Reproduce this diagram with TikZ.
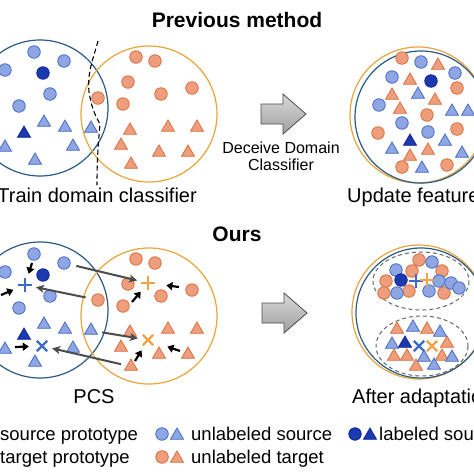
\documentclass[tikz,border=0pt]{standalone}
\usepackage{fontspec}
\setmainfont{Liberation Sans}
\usetikzlibrary{arrows.meta, shapes.geometric, shapes.misc}

\definecolor{srcfill}{HTML}{8EA6E3}
\definecolor{srcline}{HTML}{4A6CC4}
\definecolor{labfill}{HTML}{1C3AB0}
\definecolor{labline}{HTML}{14289A}
\definecolor{tgtfill}{HTML}{EE9E7C}
\definecolor{tgtline}{HTML}{D9703F}
\definecolor{srcring}{HTML}{2C5B85}
\definecolor{tgtring}{HTML}{E8A53A}
\definecolor{protosrc}{HTML}{3D6CC4}
\definecolor{prototgt}{HTML}{F2A445}

\tikzset{
  sc/.style={circle, draw=srcline, fill=srcfill, line width=0.8pt, minimum size=12.5pt, inner sep=0pt},
  st/.style={regular polygon, regular polygon sides=3, draw=srcline, fill=srcfill, line width=0.8pt, minimum size=15pt, inner sep=0pt, yshift=-1.5pt},
  lc/.style={sc, draw=labline, fill=labfill},
  lt/.style={st, draw=labline, fill=labfill},
  tc/.style={sc, draw=tgtline, fill=tgtfill},
  tt/.style={st, draw=tgtline, fill=tgtfill},
  ring/.style={line width=1.2pt},
  group/.style={dashed, dash pattern=on 4pt off 3pt, line width=1pt, black!60},
  splus/.style={cross out, rotate=45, draw=protosrc, line width=2.4pt, minimum size=8pt, inner sep=0pt},
  sx/.style={cross out, draw=protosrc, line width=2.4pt, minimum size=8pt, inner sep=0pt},
  tplus/.style={splus, draw=prototgt},
  tx/.style={sx, draw=prototgt},
  pull/.style={black!70, line width=2pt, -{Stealth[length=8pt,width=8pt,inset=2pt]}, shorten <=6pt, shorten >=5pt},
  nudge/.style={line width=2.2pt, -{Triangle[length=6pt,width=8pt]}},
  bigarrow/.style={draw=black!70, line width=0.8pt, top color=gray!30, bottom color=gray!75},
  heading/.style={font=\fontsize{21}{25}\selectfont\bfseries, inner sep=0pt},
  caption/.style={font=\fontsize{20}{24}\selectfont, inner sep=0pt},
  note/.style={font=\fontsize{16}{17}\selectfont, inner sep=0pt, align=center},
  keytext/.style={font=\fontsize{18.5}{22}\selectfont, inner sep=0pt, anchor=base west}
}

% the two domains before adaptation
\newcommand{\domains}{%
  \draw[ring, srcring] (40,108) circle[radius=68];
  \draw[ring, tgtring] (149,114) circle[radius=68];
  \foreach \px/\py [count=\i] in {34/52,64/61,5/70,50/94,19/106}
    \node[sc] (sc\i) at (\px,\py) {};
  \node[lc] (lc1) at (43,73) {};
  \foreach \px/\py [count=\i] in {44/121,65/126,91/127,5/146,73/145,35/159}
    \node[st] (st\i) at (\px,\py) {};
  \node[lt] (lt1) at (24,132) {};
  \foreach \px/\py [count=\i] in {136/57,155/61,128/82,161/94,192/88,123/104,98/98}
    \node[tc] (tc\i) at (\px,\py) {};
  \foreach \px/\py [count=\i] in {130/129,168/126,197/126,121/144,159/151,188/151,131/163}
    \node[tt] (tt\i) at (\px,\py) {};
}

\newcommand{\blockarrow}[2]{%
  \draw[bigarrow, shift={(#1,#2)}] (0,10) -- (22,10) -- (22,0) -- (45,20) -- (22,40) -- (22,30) -- (0,30) -- cycle;
}

\begin{document}
\begin{tikzpicture}[x=1pt, y=-1pt]
\useasboundingbox (0,0) rectangle (474,474);
\fill[white] (0,0) rectangle (474,474);
\clip (0,0) rectangle (474,474);

\node[heading, anchor=base] (prev) at (237,27) {Previous method};
\node[heading, anchor=base] (ours) at (237,241) {Ours};

%% previous method
\begin{scope}[name prefix=top-]
  \domains
\end{scope}
\draw[dashed, dash pattern=on 5pt off 3pt, line width=1.1pt] (98,41) to[out=-105,in=95] (89,92) to[out=-80,in=120] (100,124) to[out=-95,in=90] (97,185);
\node[caption, anchor=base east] (train) at (197,202) {Train domain classifier};

\blockarrow{261}{94}
\node[note, anchor=north] (deceive) at (281,142) {Deceive Domain\\Classifier};

\draw[ring, tgtring] (418,115) circle[radius=68];
\draw[ring, srcring] (421,117) circle[radius=66];
\begin{scope}[name prefix=mix-]
  \foreach \px/\py [count=\i] in {402/58,457/88,427/115,378/133,457/129,402/167,447/165}
    \node[tc] (tc\i) at (\px,\py) {};
  \foreach \px/\py [count=\i] in {421/62,455/73,392/77,379/105,402/123,428/132}
    \node[sc] (sc\i) at (\px,\py) {};
  \node[lc] (lc1) at (431,81) {};
  \foreach \px/\py [count=\i] in {438/64,410/79,392/94,435/99,400/108,410/155,428/149}
    \node[tt] (tt\i) at (\px,\py) {};
  \foreach \px/\py [count=\i] in {418/93,452/110,468/110,445/140,392/148,462/152,422/167}
    \node[st] (st\i) at (\px,\py) {};
  \node[lt] (lt1) at (410,140) {};
\end{scope}
\node[caption, anchor=base west] (update) at (347,202) {Update features};

%% ours: PCS
\begin{scope}[name prefix=bot-, shift={(0,202)}]
  \domains
\end{scope}
\node[splus] (sproto) at (25,285) {};
\node[sx] (scross) at (42,346) {};
\node[tplus] (tproto) at (148,283) {};
\node[tx] (tcross) at (148,340) {};

\draw[pull] (bot-sc2) -- (tproto);
\draw[pull] (bot-tc7) -- (sproto);
\draw[pull] (bot-st3) -- (tcross);
\draw[pull] (bot-tt7) -- (scross);

\coordinate (n1) at (32,263);
\coordinate (n2) at (1,295);
\coordinate (n3) at (15,347);
\coordinate (n4) at (179,287);
\coordinate (n5) at (132,302);
\coordinate (n6) at (135,361);
\coordinate (n7) at (180,351);
\draw[nudge, shorten >=6pt] (n1) -- (sproto);
\draw[nudge, shorten >=7pt] (n2) -- (sproto);
\draw[nudge, shorten >=8pt] (n3) -- (scross);
\draw[nudge, shorten >=12pt] (n4) -- (tproto);
\draw[nudge, shorten >=6pt] (n5) -- (tproto);
\draw[nudge, shorten >=6pt] (n6) -- (tcross);
\draw[nudge, shorten >=15pt] (n7) -- (tcross);
\node[caption, anchor=base] (pcs) at (94,403) {PCS};

\blockarrow{262}{293}

%% after adaptation
\draw[ring, tgtring] (419,312) circle[radius=67];
\draw[ring, srcring] (421,313) circle[radius=65];
\draw[group] (421,281) ellipse[x radius=48, y radius=29];
\draw[group] (422,346) ellipse[x radius=46, y radius=30];
\begin{scope}[name prefix=after-]
  \foreach \px/\py [count=\i] in {419/260,412/271,442/271,386/281,384/293,409/291,444/293}
    \node[tc] (tc\i) at (\px,\py) {};
  \foreach \px/\py [count=\i] in {432/262,396/270,439/281,451/283,459/288,397/293,429/291}
    \node[sc] (sc\i) at (\px,\py) {};
  \node[lc] (lc1) at (401,280) {};
  \foreach \px/\py [count=\i] in {397/328,427/328,447/342,394/355,407/355,442/355,416/365}
    \node[tt] (tt\i) at (\px,\py) {};
  \foreach \px/\py [count=\i] in {413/326,440/331,392/343,424/356,452/356,434/364}
    \node[st] (st\i) at (\px,\py) {};
  \node[lt] (lt1) at (405,342) {};
\end{scope}
\node[splus] (sproto2) at (416,281) {};
\node[tplus] (tproto2) at (427,280) {};
\node[sx] (scross2) at (419,346) {};
\node[tx] (tcross2) at (432,346) {};
\node[caption, anchor=base west] (after) at (352,403) {After adaptation};

%% legend
\node[keytext] (key-sp) at (0,440) {source prototype};
\node[keytext] (key-tp) at (0,463) {target prototype};
\node[sc] (key-sc) at (162,434) {};
\node[st] (key-st) at (177,434) {};
\node[keytext] (key-us) at (191,440) {unlabeled source};
\node[tc] (key-tc) at (162,457) {};
\node[tt] (key-tt) at (177,457) {};
\node[keytext] (key-ut) at (191,463) {unlabeled target};
\node[lc] (key-lc) at (355,434) {};
\node[lt] (key-lt) at (370,434) {};
\node[keytext] (key-ls) at (379,440) {labeled source};
\end{tikzpicture}
\end{document}
